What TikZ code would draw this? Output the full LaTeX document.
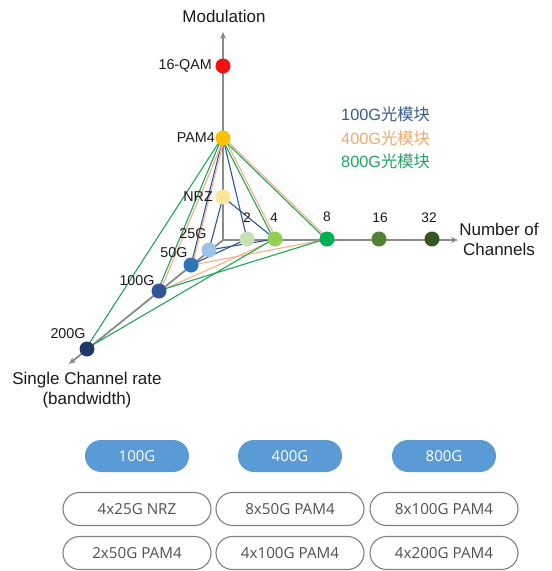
\documentclass[tikz,border=0pt]{standalone}
\usepackage{fontspec}
\setmainfont{Liberation Sans}
\newfontfamily\pillfont{Open Sans}
\newfontfamily\cjk{Noto Sans CJK SC}
\usetikzlibrary{arrows.meta,shapes.misc}
\definecolor{axisgray}{HTML}{8A8A8A}
\definecolor{lblue}{HTML}{2F5597}
\definecolor{lorange}{HTML}{F4B183}
\definecolor{lgreen}{HTML}{1FA55A}
\definecolor{pillblue}{HTML}{5B9BD5}
\definecolor{pillgray}{HTML}{808080}
\definecolor{pilltext}{HTML}{505050}
\definecolor{txt}{HTML}{1A1A1A}
\definecolor{cqam}{HTML}{EE1111}
\definecolor{cpam}{HTML}{FFC000}
\definecolor{cnrz}{HTML}{FFE699}
\definecolor{ctwo}{HTML}{C5E0B4}
\definecolor{cfour}{HTML}{92D050}
\definecolor{ceight}{HTML}{00B050}
\definecolor{csixteen}{HTML}{548235}
\definecolor{cthirtytwo}{HTML}{375623}
\definecolor{gtwentyfive}{HTML}{9DC3E6}
\definecolor{gfifty}{HTML}{2E75B6}
\definecolor{ghundred}{HTML}{2F5597}
\definecolor{gtwohundred}{HTML}{1F3864}
\definecolor{legblue}{HTML}{3A5A8C}
\definecolor{legorange}{HTML}{ECAA6E}
\definecolor{leggreen}{HTML}{21A366}
\begin{document}
\begin{tikzpicture}[x=1pt,y=-1pt,
  mdot/.style={circle,inner sep=0pt,minimum size=15pt,fill=#1},
  lab/.style={font=\fontsize{14.3}{16}\selectfont,inner sep=0pt,text=txt},
  numlab/.style={font=\fontsize{13.8}{15}\selectfont,inner sep=0pt,text=txt},
  axtitle/.style={font=\fontsize{17}{20}\selectfont,inner sep=0pt,text=txt,align=center},
  axisline/.style={draw=axisgray,line width=1.8pt,-{Stealth[length=7pt,width=6pt]}},
  legend/.style={font=\fontsize{16.3}{18}\selectfont,inner sep=0pt,anchor=west},
  tri/.style={line width=1.1pt,line join=round},
  bluepill/.style={rounded rectangle,fill=pillblue,minimum width=104pt,minimum height=32pt,
    inner sep=0pt,text=white,font=\pillfont\fontsize{15}{17}\selectfont},
  outpill/.style={rounded rectangle,draw=pillgray,line width=1.1pt,minimum width=148pt,minimum height=33pt,
    inner sep=0pt,text=pilltext,font=\pillfont\fontsize{15.2}{17}\selectfont}
]
\useasboundingbox (0,0) rectangle (552,571);

% axes
\coordinate (O) at (223,240);
\coordinate (vtop) at (223,32);
\coordinate (hend) at (458,240);
\coordinate (dend) at (69,364);
\draw[axisline] (O) -- (vtop);
\draw[axisline] (O) -- (hend);
\draw[axisline] (O) -- (dend);

% node positions
\coordinate (qam) at (223,66);
\coordinate (pam) at (223,138);
\coordinate (nrz) at (223,197);
\coordinate (c2) at (247,239);
\coordinate (c4) at (275,239);
\coordinate (c8) at (327,239);
\coordinate (c16) at (379,239);
\coordinate (c32) at (432,239);
\coordinate (g25) at (209,250);
\coordinate (g50) at (191,265);
\coordinate (g100) at (159,291);
\coordinate (g200) at (87,349);

% triangles
\draw[tri,lblue] (nrz) -- (g25) -- (c4) -- cycle;
\draw[tri,lblue] (pam) -- (g50) -- (c2) -- cycle;
\draw[tri,lorange,transform canvas={xshift=1.3pt}] (pam) -- (g50) -- (c8) -- cycle;
\draw[tri,lorange,transform canvas={xshift=1.3pt}] (pam) -- (g100) -- (c4) -- cycle;
\draw[tri,lgreen,transform canvas={xshift=-1.3pt}] (pam) -- (g100) -- (c8) -- cycle;
\draw[tri,lgreen,transform canvas={xshift=-1.3pt}] (pam) -- (g200) -- (c4) -- cycle;

% dots
\node[mdot=cqam] (nqam) at (qam) {};
\node[mdot=cpam] (npam) at (pam) {};
\node[mdot=cnrz] (nnrz) at (nrz) {};
\node[mdot=ctwo] (nc2) at (c2) {};
\node[mdot=cfour] (nc4) at (c4) {};
\node[mdot=ceight] (nc8) at (c8) {};
\node[mdot=csixteen] (nc16) at (c16) {};
\node[mdot=cthirtytwo] (nc32) at (c32) {};
\node[mdot=gtwentyfive] (ng25) at (g25) {};
\node[mdot=gfifty] (ng50) at (g50) {};
\node[mdot=ghundred] (ng100) at (g100) {};
\node[mdot=gtwohundred] (ng200) at (g200) {};

% labels
\node[axtitle] (tmod) at (224,16) {Modulation};
\node[lab,anchor=east] (lqam) at (212,66) {16-QAM};
\node[lab,anchor=east] (lpam) at (215,138) {PAM4};
\node[lab,anchor=east] (lnrz) at (213,197) {NRZ};
\node[numlab] (l2) at (247,218) {2};
\node[numlab] (l4) at (274,218) {4};
\node[numlab] (l8) at (327,217) {8};
\node[numlab] (l16) at (380,218) {16};
\node[numlab] (l32) at (429,218) {32};
\node[lab] (l25) at (193,234) {25G};
\node[lab] (l50) at (174,253) {50G};
\node[lab] (l100) at (137,281) {100G};
\node[lab] (l200) at (68,334) {200G};
\node[axtitle] (tch) at (499,239) {Number of\\Channels};
\node[axtitle] (tsc) at (87,390) {Single Channel rate\\(bandwidth)};

% legend
\node[legend,text=legblue] (leg1) at (341,114) {100G{\cjk 光模块}};
\node[legend,text=legorange] (leg2) at (341,138) {400G{\cjk 光模块}};
\node[legend,text=leggreen] (leg3) at (341,161) {800G{\cjk 光模块}};

% pills
\node[bluepill] (p100) at (137,456) {100G};
\node[bluepill] (p400) at (290,456) {400G};
\node[bluepill] (p800) at (444,456) {800G};
\node[outpill] (a1) at (137,509) {4x25G NRZ};
\node[outpill] (a2) at (290,509) {8x50G PAM4};
\node[outpill] (a3) at (444,509) {8x100G PAM4};
\node[outpill] (b1) at (137,553) {2x50G PAM4};
\node[outpill] (b2) at (290,553) {4x100G PAM4};
\node[outpill] (b3) at (444,553) {4x200G PAM4};
\end{tikzpicture}
\end{document}
